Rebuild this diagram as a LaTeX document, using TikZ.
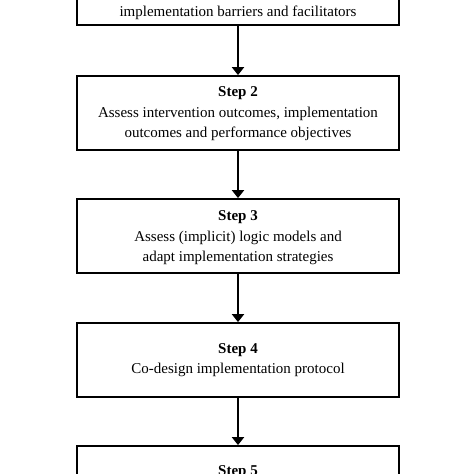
\documentclass[tikz,border=0pt]{standalone}
\usepackage{fontspec}
\setmainfont{Liberation Serif}
\usetikzlibrary{arrows.meta}

\tikzset{
    stepbox/.style={draw, line width=1.8pt, minimum width=322pt, minimum height=74pt, inner sep=0pt},
    steptext/.style={align=center, font=\fontsize{15}{20.5}\selectfont},
    flow/.style={line width=2.6pt, -{Triangle[length=8pt,width=12pt]}}
}

\begin{document}
\begin{tikzpicture}[x=1pt,y=-1pt]
                \useasboundingbox (0,0) rectangle (474,474);
                \fill[white] (0,0) rectangle (474,474);
                % boxes
                \node[stepbox] (s1) at (238,-12) {};
                \node[stepbox] (s2) at (238,113) {};
                \node[stepbox] (s3) at (238,236) {};
                \node[stepbox] (s4) at (238,360) {};
                \node[stepbox] (s5) at (238,483) {};
                % texts
                \node[steptext] (t1) at (238,13) {implementation barriers and facilitators};
                \node[steptext] (t2) at (238,114) {\textbf{Step 2}\\Assess intervention outcomes, implementation\\outcomes and performance objectives};
                \node[steptext] (t3) at (238,238) {\textbf{Step 3}\\Assess (implicit) logic models and\\adapt implementation strategies};
                \node[steptext] (t4) at (238,360) {\textbf{Step 4}\\Co-design implementation protocol};
                \node[steptext] (t5) at (238,472) {\textbf{Step 5}};
                % arrows
                \draw[flow] (s1) -- (s2);
                \draw[flow] (s2) -- (s3);
                \draw[flow] (s3) -- (s4);
                \draw[flow] (s4) -- (s5);
            \end{tikzpicture}
\end{document}
